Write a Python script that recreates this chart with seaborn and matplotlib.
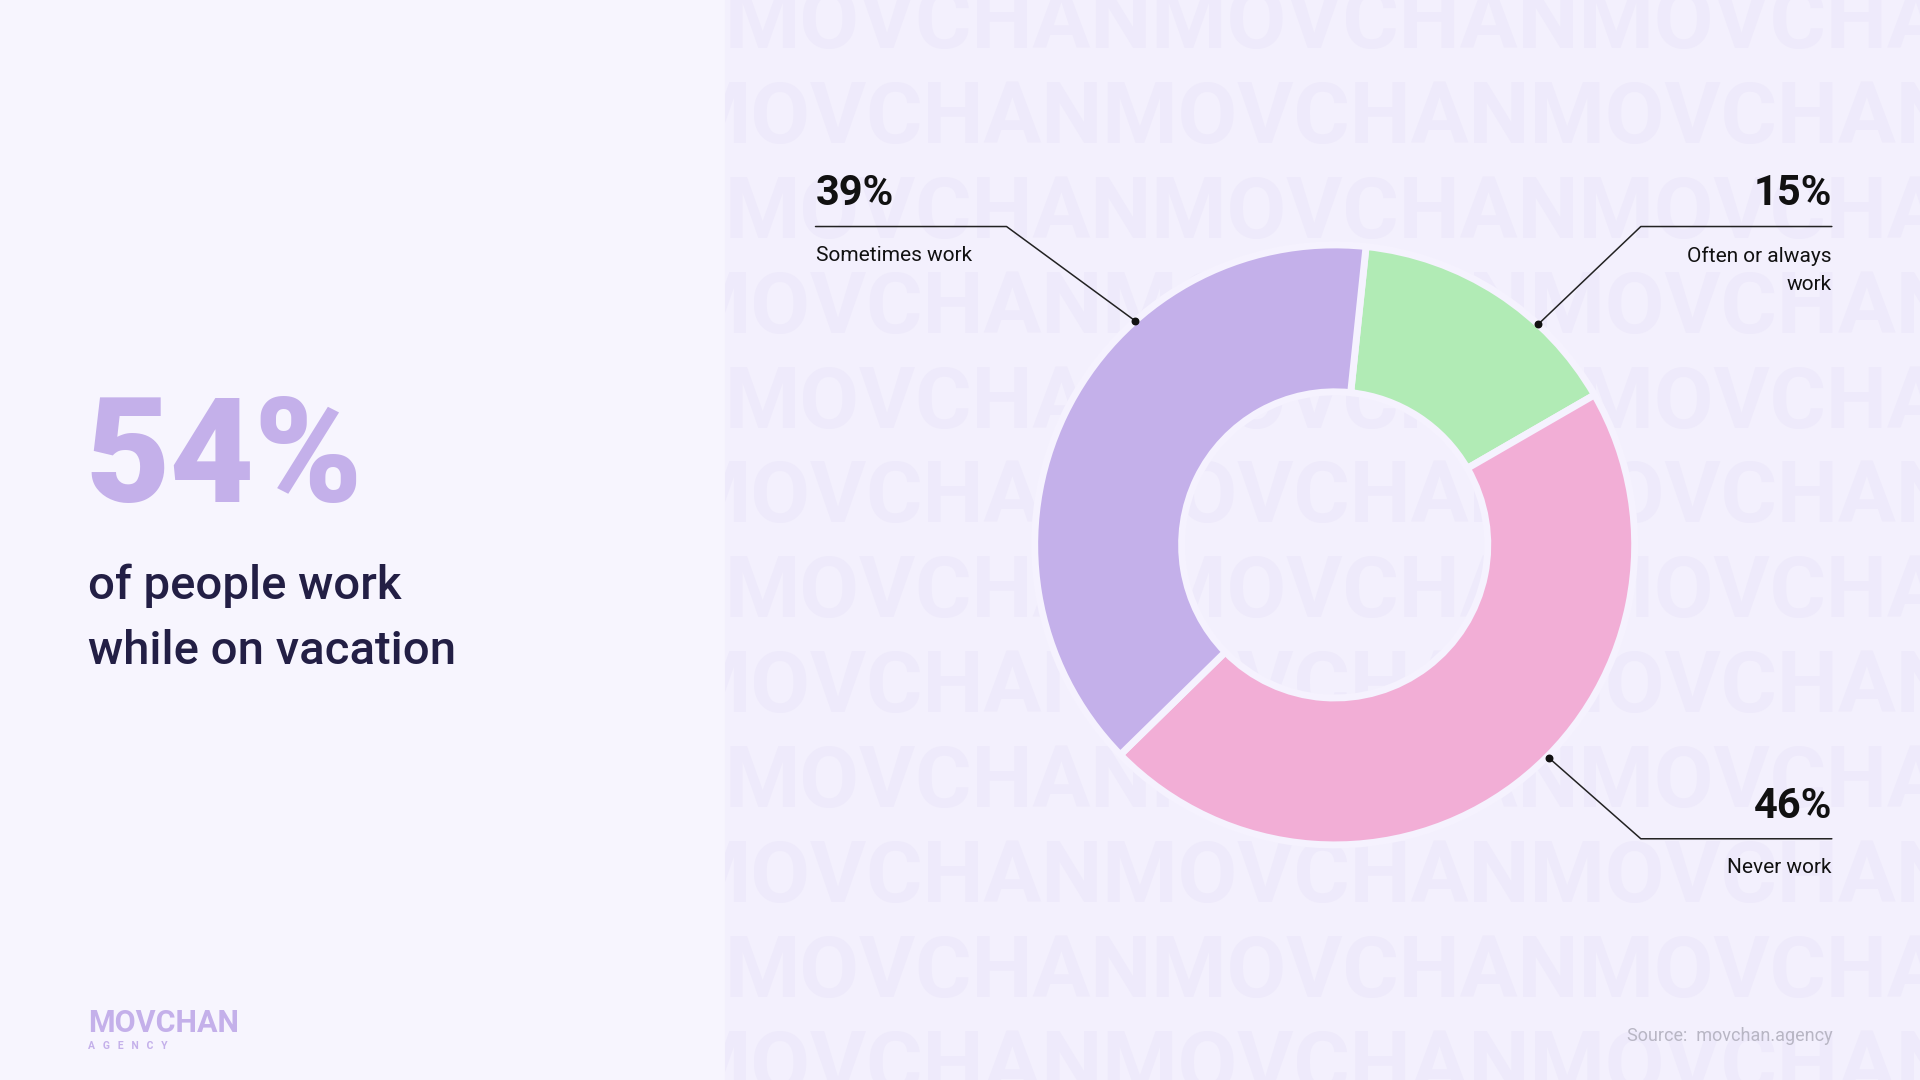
import matplotlib.pyplot as plt
import matplotlib.patches as mpatches
import seaborn as sns

# data
categories = ["Often or always\nwork", "Never work", "Sometimes work"]
shares = [15, 46, 39]
colors = ["#B1EBB5", "#F2AED6", "#C4B0EA"]
headline = "54%"
headline_text = "of people work\nwhile on vacation"

sns.set_style("white")
plt.rcParams["font.family"] = ["Roboto", "DejaVu Sans"]

W, H = 1568, 882
def Y(y):
    return H - y

fig = plt.figure(figsize=(19.2, 10.8), dpi=100)
fig.patch.set_facecolor("#F7F5FE")
ax = fig.add_axes([0, 0, 1, 1])
ax.set_xlim(0, W)
ax.set_ylim(0, H)
ax.set_aspect("equal")
ax.axis("off")

# right panel + faint watermark
panel = mpatches.Rectangle((592, 0), W - 592, H, color="#F3F0FD", zorder=0)
ax.add_patch(panel)
for i in range(12):
    y = 20 + i * 77.5
    off = 0 if i % 2 == 0 else -40
    t = ax.text(592 + off, Y(y), "MOVCHAN" * 5, fontsize=62, fontweight="bold",
                color="#EEEAFB", va="center", ha="left", zorder=1)
    t.set_clip_on(True)
    t.set_clip_path(panel)

# donut
cx, cy, R = 1090, Y(445), 245
ax.pie(shares, colors=colors, startangle=84, counterclock=False, center=(cx, cy), radius=R,
       wedgeprops=dict(width=120, edgecolor="#F5F2FE", linewidth=5, zorder=3),
       frame=True)
ax.set_xlim(0, W)
ax.set_ylim(0, H)
ax.axis("off")

# label anchors: dot, elbow, line end, alignment
label_layout = [
    ((1256, 265), (1340, 185), 1496, "right"),
    ((1265, 619), (1340, 685), 1496, "right"),
    ((927, 262), (822, 185), 666, "left"),
]
for share, cat, (dot, elbow, xend, ha) in zip(shares, categories, label_layout):
    ax.plot([dot[0], elbow[0], xend], [Y(dot[1]), Y(elbow[1]), Y(elbow[1])],
            color="#222222", lw=1.1, zorder=4)
    ax.scatter([dot[0]], [Y(dot[1])], s=22, color="#111111", zorder=5)
    ax.text(xend, Y(elbow[1]) + 10, f"{share}%", fontsize=30, fontweight="bold",
            color="#111111", ha=ha, va="bottom", zorder=5)
    ax.text(xend, Y(elbow[1]) - 16, cat, fontsize=15, color="#111111", ha=ha, va="top",
            linespacing=1.6, zorder=5)

# left side
ax.text(70, Y(410), headline, fontsize=105, fontweight="black", color="#C4B0EA",
        ha="left", va="baseline")
ax.text(72, Y(460), headline_text, fontsize=34, fontweight="medium", color="#231F45",
        ha="left", va="top", linespacing=1.6)

ax.text(72, Y(843), "MOVCHAN", fontsize=22, fontweight="bold", color="#C4B0EA",
        ha="left", va="baseline")
ax.text(72, Y(857), "A   G   E   N   C   Y", fontsize=7.5, fontweight="bold",
        color="#C4B0EA", ha="left", va="baseline")
ax.text(1497, Y(846), "Source:  movchan.agency", fontsize=13, color="#B8B6C4",
        ha="right", va="center")

plt.savefig("out.png", dpi=100, facecolor=fig.get_facecolor())
